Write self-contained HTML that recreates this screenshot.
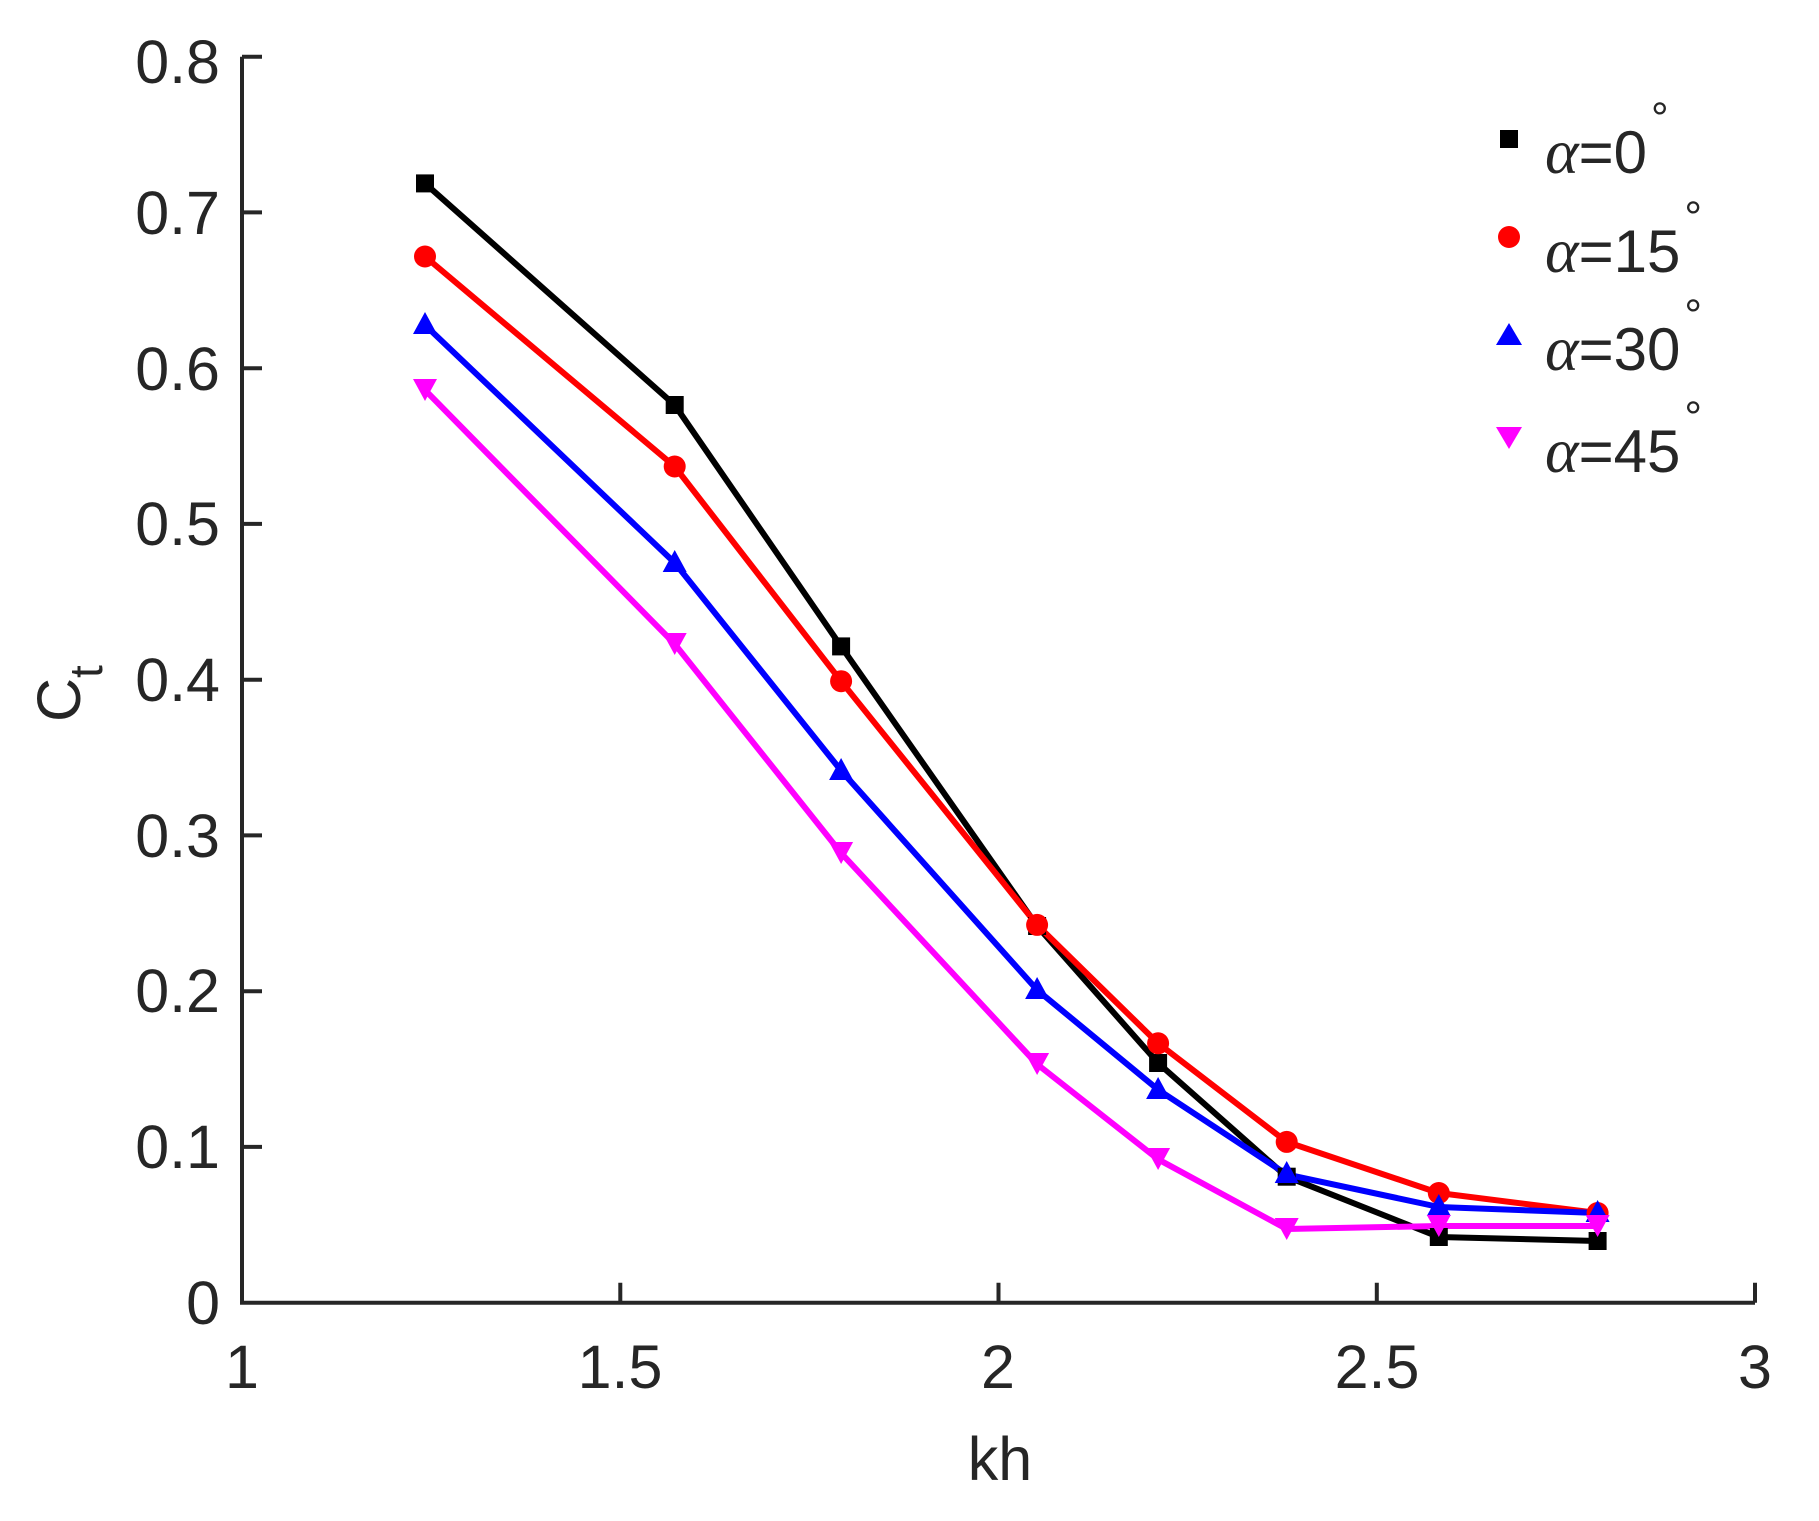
<!DOCTYPE html>
<html><head><meta charset="utf-8"><style>
html,body{margin:0;padding:0;background:#fff;}
svg{display:block;}
text{font-family:"Liberation Sans",sans-serif;fill:#262626;}
</style></head><body>
<svg width="1819" height="1521" viewBox="0 0 1819 1521" xmlns="http://www.w3.org/2000/svg">
<rect width="1819" height="1521" fill="#fff"/>
<g stroke="#262626" stroke-width="4" fill="none">
<path d="M242,56.7 V1302.7 H1755"/>
<path d="M242,56.7 h20 M242,212.4 h20 M242,368.2 h20 M242,523.9 h20 M242,679.7 h20 M242,835.4 h20 M242,991.2 h20 M242,1146.9 h20"/>
<path d="M620.3,1302.7 v-20 M998.5,1302.7 v-20 M1376.8,1302.7 v-20 M1755,1302.7 v-20"/>
</g>
<g font-size="61" text-anchor="end">
<text x="220" y="83">0.8</text>
<text x="220" y="234">0.7</text>
<text x="220" y="390">0.6</text>
<text x="220" y="545">0.5</text>
<text x="220" y="701">0.4</text>
<text x="220" y="857">0.3</text>
<text x="220" y="1012">0.2</text>
<text x="220" y="1168">0.1</text>
<text x="220" y="1324">0</text>
</g>
<g font-size="61" text-anchor="middle">
<text x="242" y="1388">1</text>
<text x="620" y="1388">1.5</text>
<text x="998" y="1388">2</text>
<text x="1377" y="1388">2.5</text>
<text x="1755" y="1388">3</text>
<text x="1000" y="1480">kh</text>
</g>
<text font-size="61" transform="translate(80,722) rotate(-90)">C<tspan font-size="46" dy="22">t</tspan></text>
<g fill="none" stroke-width="6" stroke-linejoin="round">
<polyline stroke="#000" points="425,183.4 674.7,405 841.1,646.4 1037.1,926 1158.1,1063 1286.7,1176.7 1438.8,1237 1597.6,1241"/>
<polyline stroke="#f00" points="425,256.5 674.7,466.5 841.1,681.2 1037.1,924.9 1158.1,1043.3 1286.7,1141.9 1438.8,1193 1597.6,1213"/>
<polyline stroke="#00f" points="425,325 674.7,562.8 841.1,770.6 1037.1,989.9 1158.1,1089.7 1286.7,1174.4 1438.8,1207 1597.6,1213"/>
<polyline stroke="#f0f" points="425,390 674.7,644 841.1,853 1037.1,1064.2 1158.1,1159.3 1286.7,1229 1438.8,1226 1597.6,1226"/>
</g>
<g fill="#000">
<rect x="416" y="174.4" width="18" height="18"/><rect x="665.7" y="396" width="18" height="18"/><rect x="832.1" y="637.4" width="18" height="18"/><rect x="1028.1" y="917" width="18" height="18"/><rect x="1149.1" y="1054" width="18" height="18"/><rect x="1277.7" y="1167.7" width="18" height="18"/><rect x="1429.8" y="1228" width="18" height="18"/><rect x="1588.6" y="1232" width="18" height="18"/>
</g>
<g fill="#f00">
<circle cx="425" cy="256.5" r="11"/><circle cx="674.7" cy="466.5" r="11"/><circle cx="841.1" cy="681.2" r="11"/><circle cx="1037.1" cy="924.9" r="11"/><circle cx="1158.1" cy="1043.3" r="11"/><circle cx="1286.7" cy="1141.9" r="11"/><circle cx="1438.8" cy="1193" r="11"/><circle cx="1597.6" cy="1213" r="11"/>
</g>
<g fill="#00f">
<path d="M425,312 l-12,22 h24z M674.7,550 l-12,22 h24z M841.1,758 l-12,22 h24z M1037.1,977 l-12,22 h24z M1158.1,1077 l-12,22 h24z M1286.7,1161 l-12,22 h24z M1438.8,1194 l-12,22 h24z M1597.6,1200 l-12,22 h24z"/>
</g>
<g fill="#f0f">
<path d="M425,401 l-12,-22 h24z M674.7,655 l-12,-22 h24z M841.1,864 l-12,-22 h24z M1037.1,1075 l-12,-22 h24z M1158.1,1170 l-12,-22 h24z M1286.7,1240 l-12,-22 h24z M1438.8,1237 l-12,-22 h24z M1597.6,1237 l-12,-22 h24z"/>
</g>
<rect x="1500" y="130" width="18" height="18" fill="#000"/>
<circle cx="1509" cy="237" r="11" fill="#f00"/>
<path d="M1509,323 l-13,22 h26z" fill="#00f"/>
<path d="M1509,449 l-13,-22 h26z" fill="#f0f"/>
<g font-size="60">
<text x="1545" y="173"><tspan font-family="Liberation Serif,serif" font-style="italic" font-size="64">α</tspan>=0<tspan font-size="44" dy="-40" dx="4">°</tspan></text>
<text x="1545" y="272"><tspan font-family="Liberation Serif,serif" font-style="italic" font-size="64">α</tspan>=15<tspan font-size="44" dy="-40" dx="4">°</tspan></text>
<text x="1545" y="370"><tspan font-family="Liberation Serif,serif" font-style="italic" font-size="64">α</tspan>=30<tspan font-size="44" dy="-40" dx="4">°</tspan></text>
<text x="1545" y="472"><tspan font-family="Liberation Serif,serif" font-style="italic" font-size="64">α</tspan>=45<tspan font-size="44" dy="-40" dx="4">°</tspan></text>
</g>
</svg>
</body></html>
